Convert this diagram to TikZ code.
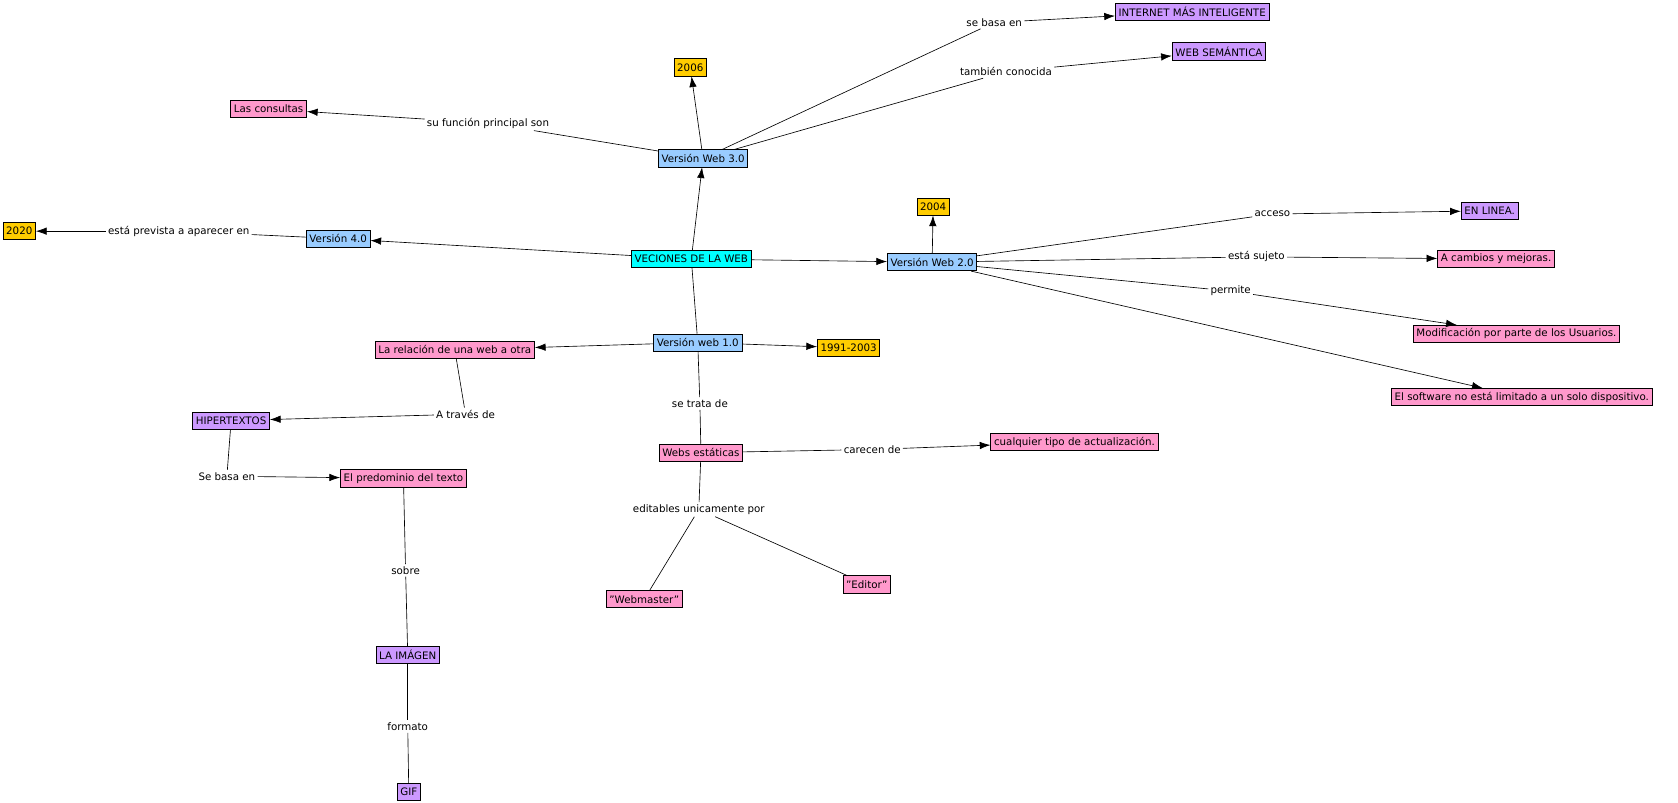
\documentclass[tikz,border=0pt]{standalone}
\usepackage{fontspec}
\setmainfont{DejaVu Sans}
\usetikzlibrary{arrows.meta}
\definecolor{cy}{HTML}{00FFFF}
\definecolor{bl}{HTML}{99CCFF}
\definecolor{gd}{HTML}{FFCC00}
\definecolor{pk}{HTML}{FF99CC}
\definecolor{pu}{HTML}{CC99FF}
\begin{document}
\begin{tikzpicture}[x=1pt,y=-1pt,
  every node/.style={font=\fontsize{9.6}{11}\selectfont},
  box/.style={draw=black,line width=0.7pt,inner xsep=3pt,inner ysep=2pt,minimum height=16pt},
  lb/.style={inner sep=2pt},
  a/.style={-{Latex[length=10pt,width=7pt]},line width=0.6pt},
  l/.style={line width=0.6pt}]
\useasboundingbox (0,0) rectangle (1568,750);
\node[box,fill=cy] (root) at (646,242) {VECIONES DE LA WEB};
\node[box,fill=bl] (v3) at (657,148) {Versión Web 3.0};
\node[box,fill=gd] (y06) at (645,63) {2006};
\node[box,fill=pk] (cons) at (251,102) {Las consultas};
\node[box,fill=pu] (int) at (1114,11) {INTERNET MÁS INTELIGENTE};
\node[box,fill=pu] (sem) at (1139,48) {WEB SEMÁNTICA};
\node[box,fill=bl] (v4) at (316,223) {Versión 4.0};
\node[box,fill=gd] (y20) at (18,216) {2020};
\node[box,fill=bl] (v2) at (871,245) {Versión Web 2.0};
\node[box,fill=gd] (y04) at (872,193) {2004};
\node[box,fill=pu] (lin) at (1392,197) {EN LINEA.};
\node[box,fill=pk] (camb) at (1398,242) {A cambios y mejoras.};
\node[box,fill=pk] (mod) at (1417,312) {Modificación por parte de los Usuarios.};
\node[box,fill=pk] (soft) at (1422,371) {El software no está limitado a un solo dispositivo.};
\node[box,fill=bl] (v1) at (652,320) {Versión web 1.0};
\node[box,fill=gd] (y91) at (793,325) {1991-2003};
\node[box,fill=pk] (rel) at (425,327) {La relación de una web a otra};
\node[box,fill=pu] (hip) at (216,393) {HIPERTEXTOS};
\node[box,fill=pk] (pred) at (377,447) {El predominio del texto};
\node[box,fill=pu] (ima) at (381,612) {LA IMÁGEN};
\node[box,fill=pu] (gif) at (382,740) {GIF};
\node[box,fill=pk] (web) at (655,423) {Webs estáticas};
\node[box,fill=pk] (act) at (1004,413) {cualquier tipo de actualización.};
\node[box,fill=pk] (wm) at (602,560) {"Webmaster"};
\node[box,fill=pk] (ed) at (810,546) {"Editor"};
% labels
\node[lb] (lfun) at (456,115) {su función principal son};
\node[lb] (lbas) at (929,21) {se basa en};
\node[lb] (ltam) at (940,67) {también conocida};
\node[lb] (lpre) at (167,216) {está prevista a aparecer en};
\node[lb] (lacc) at (1189,200) {acceso};
\node[lb] (lsuj) at (1174,240) {está sujeto};
\node[lb] (lper) at (1150,272) {permite};
\node[lb] (ltra) at (435,387) {A través de};
\node[lb] (ltr2) at (654,377) {se trata de};
\node[lb] (lsb) at (212,445) {Se basa en};
\node[lb] (lsob) at (379,533) {sobre};
\node[lb] (lfor) at (381,679) {formato};
\node[lb] (lcar) at (815,420) {carecen de};
\node[lb] (ledi) at (653,476) {editables unicamente por};
% edges
\draw[a] (root) -- (v3);
\draw[a] (v3) -- (y06);
\draw[l] (v3) -- (lfun); \draw[a] (lfun) -- (cons);
\draw[l] (v3) -- (lbas); \draw[a] (lbas) -- (int);
\draw[l] (v3) -- (ltam); \draw[a] (ltam) -- (sem);
\draw[a] (root) -- (v4);
\draw[l] (v4) -- (lpre); \draw[a] (lpre) -- (y20);
\draw[a] (root) -- (v2);
\draw[a] (v2) -- (y04);
\draw[l] (v2) -- (lacc); \draw[a] (lacc) -- (lin);
\draw[l] (v2) -- (lsuj); \draw[a] (lsuj) -- (camb);
\draw[l] (v2) -- (lper); \draw[a] (lper) -- (mod);
\draw[a] (v2) -- (soft);
\draw[l] (root) -- (v1);
\draw[a] (v1) -- (rel);
\draw[a] (v1) -- (y91);
\draw[l] (rel) -- (ltra); \draw[a] (ltra) -- (hip);
\draw[l] (hip) -- (lsb); \draw[a] (lsb) -- (pred);
\draw[l] (pred) -- (lsob); \draw[l] (lsob) -- (ima);
\draw[l] (ima) -- (lfor); \draw[l] (lfor) -- (gif);
\draw[l] (v1) -- (ltr2); \draw[l] (ltr2) -- (web);
\draw[l] (web) -- (lcar); \draw[a] (lcar) -- (act);
\draw[l] (web) -- (ledi); \draw[l] (ledi) -- (wm); \draw[l] (ledi) -- (ed);
\end{tikzpicture}
\end{document}
